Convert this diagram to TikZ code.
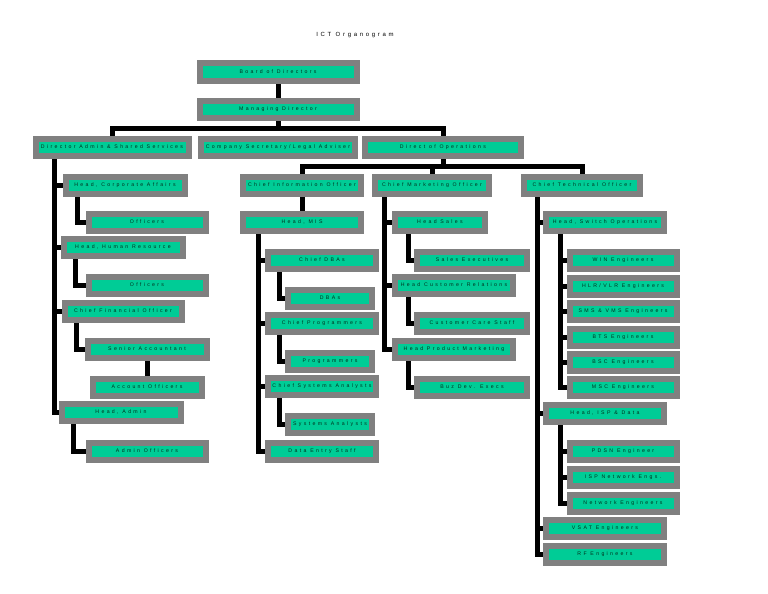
\documentclass[tikz,border=0pt]{standalone}
\usepackage{fontspec}
\usetikzlibrary{backgrounds}
\setmainfont{Liberation Sans}[LetterSpace=45]
\definecolor{gbar}{RGB}{0,204,150}
\definecolor{gbox}{RGB}{128,128,128}
\definecolor{txt}{RGB}{0,50,30}
\tikzset{
 box/.style={fill=gbar,draw=gbox,line width=6pt,minimum height=17pt,inner sep=0pt,text=txt,font=\fontsize{5.2}{6}\selectfont},
 conn/.style={draw=black,line width=5pt}
}
\begin{document}
\begin{tikzpicture}[x=1pt,y=-1pt]
\useasboundingbox (0,0) rectangle (768,594);
\node[font=\fontsize{6}{7}\selectfont] (title) at (355,35) {ICT Organogram};
\newcommand\bx[5]{\node[box,minimum width=#4-6] (#1) at (#2,#3) {#5};}
\bx{bod}{278}{72}{163}{Board of Directors}
\bx{md}{278}{109}{163}{Managing Director}
\bx{da}{112}{147}{159}{Director Admin \& Shared Services}
\bx{cs}{278}{147}{160}{Company Secretary/Legal Adviser}
\bx{dop}{443}{147}{162}{Direct of Operations}
\bx{cio}{302}{185}{124}{Chief Information Officer}
\bx{cmo}{432}{185}{120}{Chief Marketing Officer}
\bx{cto}{582}{185}{122}{Chief Technical Officer}
% admin
\bx{hca}{125}{185}{125}{Head, Corporate Affairs}
\bx{o1}{147}{222}{123}{Officers}
\bx{hhr}{123}{247}{125}{Head, Human Resource}
\bx{o2}{147}{285}{123}{Officers}
\bx{cfo}{123}{311}{123}{Chief Financial Officer}
\bx{sa}{147}{349}{125}{Senior Accountant}
\bx{ao}{147}{387}{115}{Account Officers}
\bx{ha}{121}{412}{125}{Head, Admin}
\bx{ado}{147}{451}{123}{Admin Officers}
% MIS
\bx{mis}{302}{222}{124}{Head, MIS}
\bx{cdba}{322}{260}{114}{Chief DBAs}
\bx{dba}{330}{298}{90}{DBAs}
\bx{cp}{322}{323}{114}{Chief Programmers}
\bx{pr}{330}{361}{90}{Programmers}
\bx{csa}{322}{386}{114}{Chief Systems Analysts}
\bx{sya}{330}{424}{90}{Systems Analysts}
\bx{des}{322}{451}{114}{Data Entry Staff}
% marketing
\bx{hs}{440}{222}{96}{Head Sales}
\bx{se}{472}{260}{116}{Sales Executives}
\bx{hcr}{454}{285}{124}{Head Customer Relations}
\bx{ccs}{472}{323}{116}{Customer Care Staff}
\bx{hpm}{454}{349}{124}{Head Product Marketing}
\bx{bde}{472}{387}{116}{Buz Dev. Execs}
% technical
\bx{hso}{605}{222}{124}{Head, Switch Operations}
\bx{win}{623}{260}{113}{WIN Engineers}
\bx{hlr}{623}{286}{113}{HLR/VLR Engineers}
\bx{sms}{623}{311}{113}{SMS \& VMS Engineers}
\bx{bts}{623}{337}{113}{BTS Engineers}
\bx{bsc}{623}{362}{113}{BSC Engineers}
\bx{msc}{623}{387}{113}{MSC Engineers}
\bx{isp}{605}{413}{124}{Head, ISP \& Data}
\bx{pdsn}{623}{451}{113}{PDSN Engineer}
\bx{ispn}{623}{477}{113}{ISP Network Engs.}
\bx{nete}{623}{503}{113}{Network Engineers}
\bx{vsat}{605}{528}{124}{VSAT Engineers}
\bx{rf}{605}{554}{124}{RF Engineers}
\begin{scope}[on background layer]
\draw[conn] (bod) -- (md);
\draw[conn] (md.south) -- ++(0,8) coordinate (busA);
\draw[conn] (da.north) |- (busA) -| (dop.north);
\draw[conn] (dop.south) -- ++(0,8) coordinate (busB);
\draw[conn] (cio.north) |- (busB) -| (cto.north);
\draw[conn] (busB) -| (cmo.north);
\draw[conn] (cio) -- (mis);
\foreach \c in {hca,hhr,cfo,ha}{\draw[conn] ([xshift=22pt]da.south west) |- (\c.west);}
\draw[conn] ([xshift=15pt]hca.south west) |- (o1.west);
\draw[conn] ([xshift=15pt]hhr.south west) |- (o2.west);
\draw[conn] ([xshift=15pt]cfo.south west) |- (sa.west);
\draw[conn] (sa) -- (ao);
\draw[conn] ([xshift=15pt]ha.south west) |- (ado.west);
\foreach \c in {cdba,cp,csa,des}{\draw[conn] ([xshift=18pt]mis.south west) |- (\c.west);}
\draw[conn] ([xshift=14pt]cdba.south west) |- (dba.west);
\draw[conn] ([xshift=14pt]cp.south west) |- (pr.west);
\draw[conn] ([xshift=14pt]csa.south west) |- (sya.west);
\foreach \c in {hs,hcr,hpm}{\draw[conn] ([xshift=12pt]cmo.south west) |- (\c.west);}
\draw[conn] ([xshift=16pt]hs.south west) |- (se.west);
\draw[conn] ([xshift=16pt]hcr.south west) |- (ccs.west);
\draw[conn] ([xshift=16pt]hpm.south west) |- (bde.west);
\foreach \c in {hso,isp,vsat,rf}{\draw[conn] ([xshift=16pt]cto.south west) |- (\c.west);}
\foreach \c in {win,hlr,sms,bts,bsc,msc}{\draw[conn] ([xshift=17pt]hso.south west) |- (\c.west);}
\foreach \c in {pdsn,ispn,nete}{\draw[conn] ([xshift=17pt]isp.south west) |- (\c.west);}
\end{scope}
\end{tikzpicture}
\end{document}
